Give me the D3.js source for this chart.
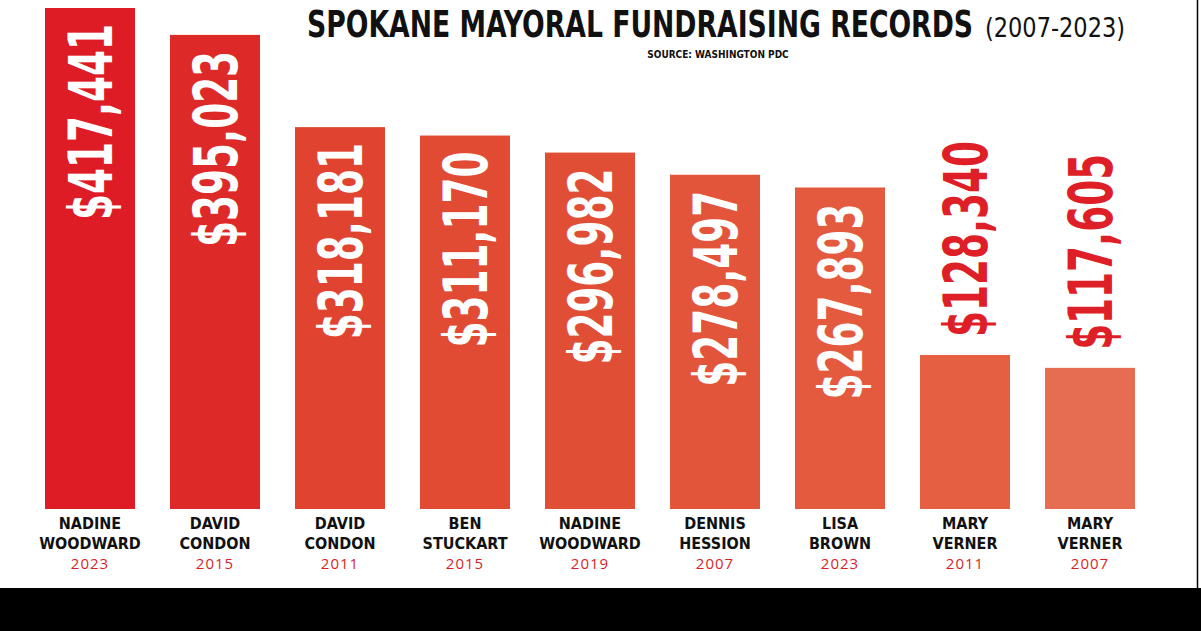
<!DOCTYPE html><html><head><meta charset="utf-8">
<script src="https://cdn.jsdelivr.net/npm/d3@7"></script>
<style>body{margin:0;background:#fff}svg{display:block}</style></head><body>
<svg id="c" width="1201" height="631"></svg>
<script>
const firstNames=["NADINE","DAVID","DAVID","BEN","NADINE","DENNIS","LISA","MARY","MARY"];
const lastNames=["WOODWARD","CONDON","CONDON","STUCKART","WOODWARD","HESSION","BROWN","VERNER","VERNER"];
const years=["2023","2015","2011","2015","2019","2007","2023","2011","2007"];
const amounts=[417441,395023,318181,311170,296982,278497,267893,128340,117605];
const colors=["#dd1c26","#dd2a28","#e04430","#e14a33","#e14e36","#e3553b","#e45a3f","#e55f42","#e66d51"];

const svg=d3.select("#c");
const idx=d3.range(amounts.length);
const x=d3.scaleBand().domain(idx).range([45,1135]).paddingInner(0.28).paddingOuter(0);
const y=d3.scaleLinear().domain([0,417441]).range([509,8]);
const fmt=d3.format("$,");
const font="'DejaVu Sans Condensed','DejaVu Sans',sans-serif";

svg.append("rect").attr("x",0).attr("y",588).attr("width",1201).attr("height",43).attr("fill","#000");
svg.append("line").attr("x1",1197.5).attr("x2",1197.5).attr("y1",0).attr("y2",588).attr("stroke","#000").attr("stroke-width",1.5);

svg.selectAll("rect.bar").data(idx).join("rect").attr("class","bar")
 .attr("x",i=>x(i)).attr("width",x.bandwidth()).attr("y",i=>y(amounts[i])).attr("height",i=>509-y(amounts[i])).attr("fill",i=>colors[i]);

svg.selectAll("text.val").data(idx).join("text").attr("class","val")
 .attr("transform",i=>{const cx=x(i)+x.bandwidth()/2+22;const inside=amounts[i]>200000;const yy=inside?y(amounts[i])+16:y(amounts[i])-18;return `translate(${cx},${yy}) rotate(-90)`;})
 .attr("text-anchor",i=>amounts[i]>200000?"end":"start")
 .attr("font-family","'DejaVu Sans',sans-serif").attr("font-weight","bold").attr("font-size",60)
 .attr("fill",i=>amounts[i]>200000?"#fff":"#de1f27").attr("textLength",196).attr("lengthAdjust","spacingAndGlyphs")
 .text(i=>fmt(amounts[i]));

const lab=svg.selectAll("g.lab").data(idx).join("g").attr("transform",i=>`translate(${x(i)+x.bandwidth()/2},0)`);
lab.append("text").attr("y",529).attr("text-anchor","middle").attr("font-family",font).attr("font-weight","bold").attr("font-size",16).attr("fill","#111").text(i=>firstNames[i]);
lab.append("text").attr("y",549).attr("text-anchor","middle").attr("font-family",font).attr("font-weight","bold").attr("font-size",16).attr("fill","#111").text(i=>lastNames[i]);
lab.append("text").attr("y",569).attr("text-anchor","middle").attr("font-family","'Open Sans',sans-serif").attr("font-size",15).attr("letter-spacing",1).attr("fill","#d81f26").text(i=>years[i]);

svg.append("text").attr("x",307).attr("y",37).attr("font-family",font).attr("font-weight","bold").attr("font-size",38).attr("fill","#111").attr("textLength",666).attr("lengthAdjust","spacingAndGlyphs").text("SPOKANE MAYORAL FUNDRAISING RECORDS");
svg.append("text").attr("x",985).attr("y",37).attr("font-family",font).attr("font-size",27).attr("fill","#111").attr("textLength",140).attr("lengthAdjust","spacingAndGlyphs").text("(2007-2023)");
svg.append("text").attr("x",718).attr("y",58).attr("text-anchor","middle").attr("font-family",font).attr("font-weight","bold").attr("font-size",10).attr("fill","#111").text("SOURCE: WASHINGTON PDC");
</script></body></html>
